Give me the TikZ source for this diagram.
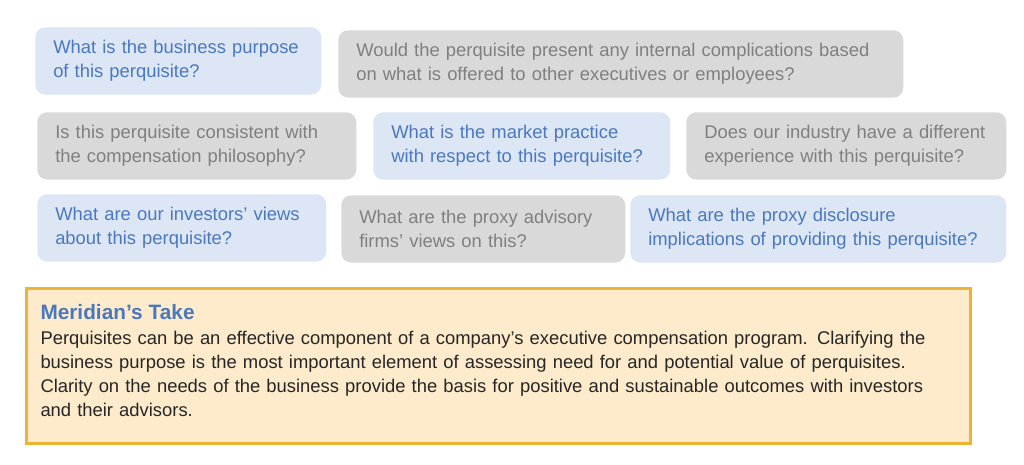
\documentclass[tikz,border=0pt]{standalone}
\usepackage{fontspec}
\setmainfont{Liberation Sans}
\definecolor{bluefill}{HTML}{DCE6F4}
\definecolor{bluetext}{HTML}{4A78C0}
\definecolor{grayfill}{HTML}{D9D9D9}
\definecolor{graytext}{HTML}{7F7F7F}
\definecolor{takefill}{HTML}{FDEBCB}
\definecolor{takeborder}{HTML}{F0B232}
\definecolor{bodytext}{HTML}{262626}
\newcommand{\twol}[2]{\mbox{#1}\\\mbox{#2}}
\begin{document}
\begin{tikzpicture}[x=0.75pt,y=-0.75pt,
  qbox/.style={rounded corners=7.5pt, anchor=north west, inner xsep=13.5pt, inner ysep=0pt,
    minimum height=50.5pt, align=left, font=\fontsize{13.8}{18}\selectfont},
  bq/.style={qbox, fill=bluefill, text=bluetext},
  gq/.style={qbox, fill=grayfill, text=graytext}]
\useasboundingbox (0,0) rectangle (1024,464);
\fill[white] (0,0) rectangle (1024,464);
\node[bq, text width=187.5pt] (q1) at (35,27) {\twol{What is the business purpose}{of this perquisite?}};
\node[gq, text width=396.75pt] (q2) at (338,30) {\twol{Would the perquisite present any internal complications based}{on what is offered to other executives or employees?}};
\node[gq, text width=212.25pt] (q3) at (37,112) {\twol{Is this perquisite consistent with}{the compensation philosophy?}};
\node[bq, text width=195.75pt] (q4) at (373,112) {\twol{What is the market practice}{with respect to this perquisite?}};
\node[gq, text width=213pt] (q5) at (686,112) {\twol{Does our industry have a different}{experience with this perquisite?}};
\node[bq, text width=189.75pt] (q6) at (37,194) {\twol{What are our investors’ views}{about this perquisite?}};
\node[gq, text width=186pt] (q7) at (341,195) {\twol{What are the proxy advisory}{firms’ views on this?}};
\node[bq, text width=255pt] (q8) at (630,195) {\twol{What are the proxy disclosure}{implications of providing this perquisite?}};
\node[draw=takeborder, line width=2.25pt, fill=takefill, anchor=north west, minimum width=708pt,
  minimum height=116.5pt, inner xsep=10.5pt, inner ysep=0pt, align=left, text width=687pt,
  font=\fontsize{13.8}{17.8}\selectfont, text=bodytext] (take) at (25,287)
  {{\fontsize{15.6}{17.8}\selectfont\bfseries\color{bluetext}Meridian’s Take}\\[1.5pt]
  \mbox{Perquisites can be an effective component of a company’s executive compensation program. Clarifying the}\\
  \mbox{business purpose is the most important element of assessing need for and potential value of perquisites.}\\
  \mbox{Clarity on the needs of the business provide the basis for positive and sustainable outcomes with investors}\\
  \mbox{and their advisors.}\\[-8.8pt]\mbox{}};
\end{tikzpicture}
\end{document}
